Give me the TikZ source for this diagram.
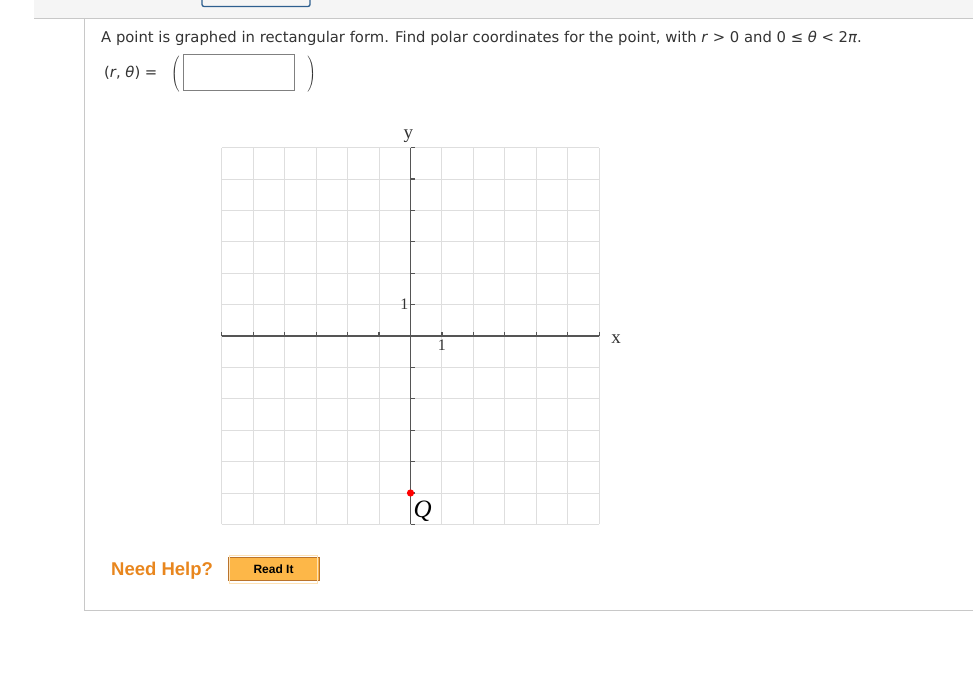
\documentclass[tikz,border=0pt]{standalone}
\usepackage{fontspec}
\setmainfont{DejaVu Sans}
\newfontfamily\arialfont{Liberation Sans}
\newfontfamily\seriffont{Liberation Serif}
\usetikzlibrary{positioning,calc}

\definecolor{pagegray}{HTML}{F5F5F5}
\definecolor{framegray}{HTML}{C8C8C8}
\definecolor{tabblue}{HTML}{2E5F8F}
\definecolor{textgray}{HTML}{333333}
\definecolor{gridgray}{HTML}{DEDEDE}
\definecolor{axisgray}{HTML}{555555}
\definecolor{helporange}{HTML}{E8861E}
\definecolor{btnfill}{HTML}{FDB748}
\definecolor{btnedge}{HTML}{B9732C}

\tikzset{
  prompt/.style={anchor=base west, inner sep=0pt, text=textgray, font=\fontsize{14.8}{17}\selectfont},
  bigparen/.style={inner sep=0pt, text=textgray, font=\fontsize{14}{16}\selectfont},
  gridline/.style={gridgray, line width=1pt},
  axisline/.style={axisgray, line width=1.4pt},
  ticklabel/.style={inner sep=1pt, text=textgray, font=\seriffont\fontsize{16}{18}\selectfont},
}

\begin{document}
\begin{tikzpicture}[x=1pt, y=-1pt]
    \useasboundingbox (0,0) rectangle (973,672);

    % Page frame
    \fill[pagegray] (34,0) rectangle (973,18);
    \draw[framegray] (34,18) -- (973,18);
    \draw[tabblue, line width=1.3pt, rounded corners=2pt] (202,-4) rectangle (310,6.5);
    \draw[framegray, line width=1pt] (84.5,18) -- (84.5,610.5) -- (973,610.5);

    % Question
    \node[prompt] (question) at (101,42) {A point is graphed in rectangular form. Find polar coordinates for the point, with \textit{r} > 0 and 0 ≤ \textit{θ} < 2\textit{π}.};
    \node[prompt] (answer) at (104,77) {(\textit{r}, \textit{θ}) =};
    \node[bigparen, anchor=east] (lparen) at (181,74) {$\left(\vrule height 14pt depth 14pt width 0pt\right.$};
    \node[draw=gray, line width=0.8pt, minimum width=111pt, minimum height=36pt, inner sep=0pt] (inputbox) at (238.5,72) {};
    \node[bigparen, anchor=west] (rparen) at (306,74) {$\left.\vrule height 14pt depth 14pt width 0pt\right)$};

    % Graph
    \begin{scope}[shift={(410.5,336)}, x=31.45pt, y=31.4pt]
        \foreach \i in {-6,...,6} {
            \draw[gridline] (\i,-6) -- (\i,6);
            \draw[gridline] (-6,\i) -- (6,\i);
        }
        \coordinate (xmin) at (-6,0);
        \coordinate (xmax) at (6,0);
        \coordinate (ymin) at (0,-6);
        \coordinate (ymax) at (0,6);
        \draw[axisline] (xmin) -- (xmax);
        \draw[axisline] (ymin) -- (ymax);
        \foreach \i in {-6,...,6} {
            \draw[axisgray, line width=1.2pt] (\i,0) -- ++(0,4pt);
            \draw[axisgray, line width=1.2pt] (0,\i) -- ++(4pt,0);
        }
        \node[ticklabel, font=\seriffont\fontsize{19}{21}\selectfont, above=4pt] (ylabel) at (-0.07,6) {y};
        \node[ticklabel, font=\seriffont\fontsize{19}{21}\selectfont, right=11pt] (xlabel) at (6,-0.1) {x};
        \node[ticklabel, left=1pt] (yone) at (0,1) {1};
        \node[ticklabel, below=3pt] (xone) at (1,0) {1};
        % Point
        \fill[red] (0,-5) circle (3.6pt) coordinate (Q);
        \node[inner sep=0pt, anchor=north west, font=\seriffont\itshape\fontsize{25}{27}\selectfont] (qlabel) at ($(Q)+(3pt,-8pt)$) {Q};
    \end{scope}

    % Help
    \node[anchor=base west, inner sep=0pt, text=helporange, font=\arialfont\bfseries\fontsize{18.5}{20}\selectfont] (needhelp) at (111,575) {Need Help?};
    \node[draw=btnedge, fill=btnfill, line width=1pt, minimum width=91pt, minimum height=23pt, inner sep=0pt, font=\arialfont\bfseries\fontsize{12}{14}\selectfont] (readit) at (273.5,569) {Read It};
    \draw[white!60!btnfill, line width=1pt] ($(readit.south west)+(2pt,-2pt)$) rectangle ($(readit.north east)+(-2pt,2pt)$);
\end{tikzpicture}
\end{document}
